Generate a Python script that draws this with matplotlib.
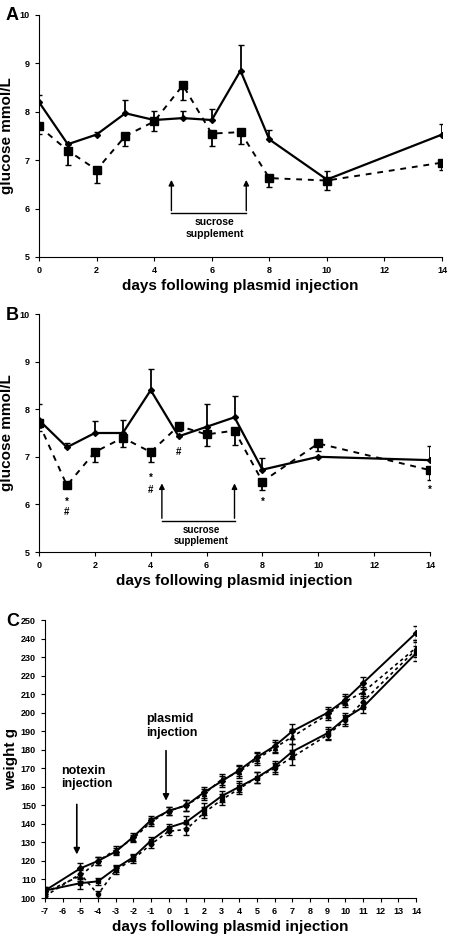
import matplotlib
matplotlib.use("Agg")
import matplotlib.pyplot as plt

days_ab = [0, 1, 2, 3, 4, 5, 6, 7, 8, 10, 14]
a_solid = [8.2, 7.33, 7.53, 7.97, 7.83, 7.87, 7.83, 8.85, 7.43, 6.6, 7.53]
a_solid_err = [0.15, 0.02, 0.05, 0.28, 0.18, 0.15, 0.22, 0.53, 0.2, 0.18, 0.22]
a_dash = [7.7, 7.2, 6.8, 7.5, 7.8, 8.55, 7.55, 7.58, 6.63, 6.58, 6.95]
a_dash_err = [0.15, 0.3, 0.27, 0.2, 0.2, 0.3, 0.25, 0.25, 0.18, 0.2, 0.15]

b_solid = [7.77, 7.2, 7.5, 7.5, 8.4, 7.43, 7.63, 7.83, 6.73, 7.0, 6.93]
b_solid_err = [0.33, 0.1, 0.25, 0.28, 0.45, 0.0, 0.47, 0.45, 0.25, 0.0, 0.3]
b_dash = [7.7, 6.4, 7.1, 7.4, 7.1, 7.65, 7.47, 7.55, 6.48, 7.28, 6.72]
b_dash_err = [0.15, 0.05, 0.2, 0.2, 0.2, 0.1, 0.25, 0.3, 0.18, 0.15, 0.2]

days_c = [-7, -5, -4, -3, -2, -1, 0, 1, 2, 3, 4, 5, 6, 7, 9, 10, 11, 14]
c_up_solid = [104, 116, 120, 125, 133, 142, 147, 150, 157, 163, 169, 176, 182, 190, 200, 207, 216, 243]
c_up_dash = [103, 112, 120, 126, 132, 141, 147, 150, 156, 164, 168, 175, 181, 187, 199, 206, 211, 235]
c_lo_solid = [104, 108, 109, 116, 122, 131, 138, 141, 148, 155, 160, 165, 171, 179, 189, 197, 203, 232]
c_lo_dash = [101, 113, 102, 115, 121, 129, 136, 137, 146, 153, 159, 165, 170, 176, 188, 196, 206, 234]
c_err = [2, 3, 2, 2, 2, 2, 2, 3, 3, 3, 3, 3, 3, 4, 3, 3, 3, 4]

W, H = 453, 944
plt.rcParams['font.family'] = ['Liberation Sans', 'DejaVu Sans']
plt.rcParams['axes.unicode_minus'] = False
fig = plt.figure(figsize=(W/100, H/100), dpi=100)
bold = dict(fontweight='bold')

def ax_rect(l, t, r, b):
    return [l/W, 1-b/H, (r-l)/W, (b-t)/H]

def panel_label(txt, x, y):
    fig.text(x/W, 1-y/H, txt, fontsize=13, **bold, ha='left', va='center')

def glucose(ax, s, se, d, de):
    ax.errorbar(days_ab, s, yerr=[[0]*len(s), se], color='k', lw=1.6, marker='D', ms=3,
                capsize=2.5, elinewidth=1.3)
    ax.errorbar(days_ab, d, yerr=[de, [0]*len(d)], color='k', lw=1.4, ls=(0, (3, 3)), marker='s', ms=6,
                capsize=2.5, elinewidth=1.3)
    ax.set_xlim(0, 14)
    ax.set_ylim(5, 10)
    ax.set_xticks(range(0, 15, 2))
    ax.set_yticks(range(5, 11))
    ax.tick_params(labelsize=6.5, length=3)
    for t in ax.get_xticklabels() + ax.get_yticklabels():
        t.set_fontweight('bold')
    for sp in ['top', 'right']:
        ax.spines[sp].set_visible(False)
    ax.set_ylabel('glucose mmol/L', fontsize=11, **bold, labelpad=4)
    ax.set_xlabel('days following plasmid injection', fontsize=11, **bold, labelpad=3)

axA = fig.add_axes(ax_rect(39, 15, 442, 257))
glucose(axA, a_solid, a_solid_err, a_dash, a_dash_err)
panel_label('A', 6, 15)
for x in (4.6, 7.2):
    axA.annotate('', xy=(x, 6.65), xytext=(x, 5.9),
                 arrowprops=dict(arrowstyle='-|>', color='k', lw=1, mutation_scale=8))
axA.plot([4.6, 7.2], [5.9, 5.9], color='k', lw=1)
axA.text(6.1, 5.6, 'sucrose\nsupplement', ha='center', va='center', fontsize=7.5, **bold)

axB = fig.add_axes(ax_rect(39, 314, 430, 552))
glucose(axB, b_solid, b_solid_err, b_dash, b_dash_err)
panel_label('B', 6, 315)
for x in (4.4, 7.0):
    axB.annotate('', xy=(x, 6.5), xytext=(x, 5.65),
                 arrowprops=dict(arrowstyle='-|>', color='k', lw=1, mutation_scale=8))
axB.plot([4.4, 7.0], [5.65, 5.65], color='k', lw=1)
axB.text(5.8, 5.35, 'sucrose\nsupplement', ha='center', va='center', fontsize=7, **bold)
for x, y, s in [(1, 6.05, '*'), (1, 5.85, '#'), (4, 6.55, '*'), (4, 6.3, '#'),
                (5, 7.1, '#'), (8, 6.05, '*'), (14, 6.3, '*')]:
    axB.text(x, y, s, ha='center', va='center', fontsize=7, **bold)

axC = fig.add_axes(ax_rect(45, 620, 416, 898))
axC.errorbar(days_c, c_up_solid, yerr=c_err, color='k', lw=1.4, marker='D', ms=3, capsize=2, elinewidth=1)
axC.errorbar(days_c, c_up_dash, yerr=c_err, color='k', lw=1.2, ls=(0, (2, 2)), marker='^', ms=3, capsize=2, elinewidth=1)
axC.errorbar(days_c, c_lo_solid, yerr=c_err, color='k', lw=1.4, marker='s', ms=3.5, capsize=2, elinewidth=1)
axC.errorbar(days_c, c_lo_dash, yerr=c_err, color='k', lw=1.2, ls=(0, (2, 2)), marker='o', ms=3, capsize=2, elinewidth=1)
axC.set_xlim(-7, 14)
axC.set_ylim(100, 250)
axC.set_xticks(range(-7, 15))
axC.set_yticks(range(100, 251, 10))
axC.tick_params(labelsize=6.5, length=3)
for t in axC.get_xticklabels() + axC.get_yticklabels():
    t.set_fontweight('bold')
for sp in ['top', 'right']:
    axC.spines[sp].set_visible(False)
axC.set_ylabel('weight g', fontsize=11, **bold, labelpad=2)
axC.set_xlabel('days following plasmid injection', fontsize=11, **bold, labelpad=3)
panel_label('C', 6, 622)
axC.annotate('', xy=(-5.2, 122), xytext=(-5.2, 152),
             arrowprops=dict(arrowstyle='-|>', color='k', lw=1.2, mutation_scale=9))
axC.text(-6.1, 165, 'notexin\ninjection', fontsize=9, **bold, va='center', ha='left')
axC.annotate('', xy=(-0.15, 151), xytext=(-0.15, 181),
             arrowprops=dict(arrowstyle='-|>', color='k', lw=1.2, mutation_scale=9))
axC.text(-1.3, 193, 'plasmid\ninjection', fontsize=9, **bold, va='center', ha='left')

fig.savefig('out.png', dpi=100)
